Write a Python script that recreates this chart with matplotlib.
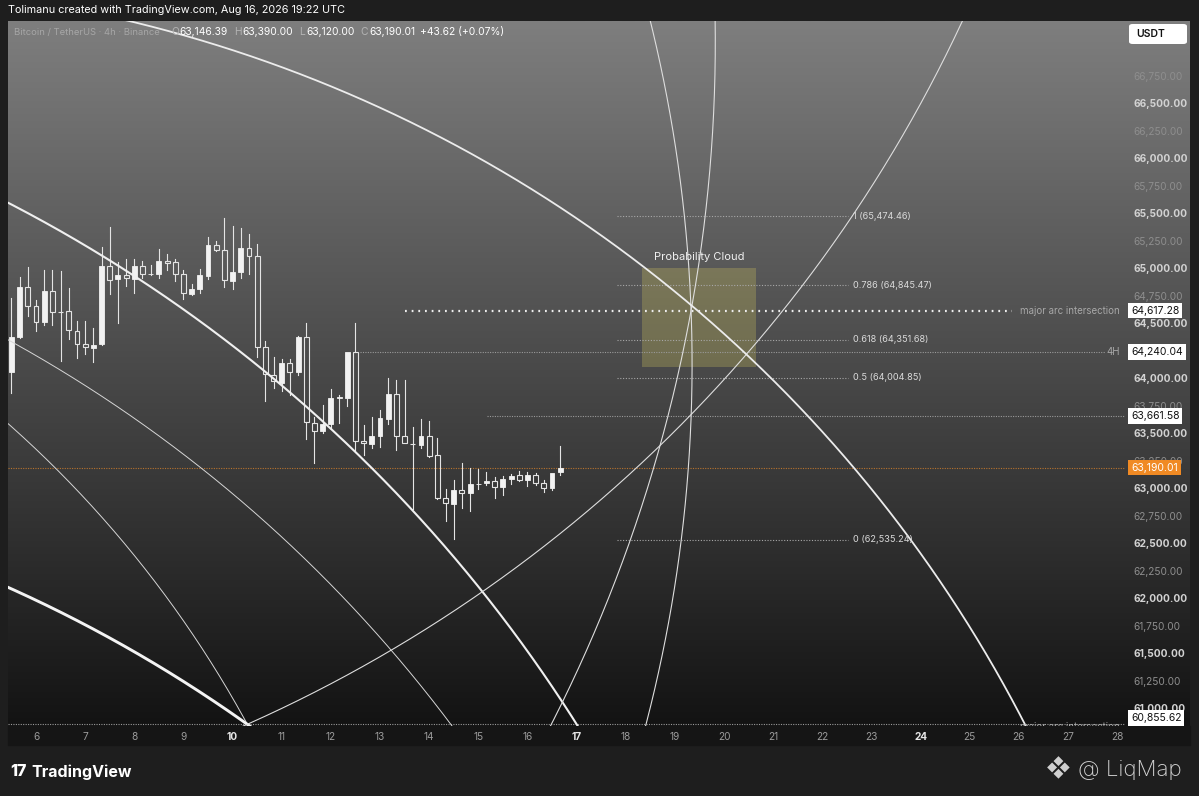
import numpy as np
import pandas as pd
import matplotlib
matplotlib.use('Agg')
import matplotlib.pyplot as plt
from matplotlib.patches import Rectangle, FancyBboxPatch
from matplotlib.colors import LinearSegmentedColormap
import matplotlib.transforms as mtransforms

plt.rcParams['font.family'] = ['Inter', 'DejaVu Sans']

W, H = 1199, 796

########
# DATA #
########

# BTCUSDT 4h candles, Aug 5 12:00 -> Aug 16 16:00
opens = [64059, 64376, 64828, 64656, 64511, 64792, 64608, 64614, 64433, 64310,
         64279, 64310, 65018, 64900, 64943, 64907, 65018, 64946, 64948, 65066,
         65063, 64948, 64771, 64810, 64930, 65214, 65169, 64889, 64967, 65187,
         65111, 64282, 64029, 63957, 64143, 64056, 64378, 63595, 63525, 63588,
         63826, 63826, 64240.04, 63434, 63405, 63473, 63633, 63860, 63473, 63407,
         63398, 63480, 63301, 62910, 62861, 62985, 62961, 63036, 63045, 63066,
         63015, 63090, 63118, 63081, 63118, 63051, 63000, 63146.39]
highs = [64729, 64921, 65012, 64710, 64982, 64982, 64973, 64822, 64523, 64526,
         64457, 65193, 65380, 65057, 65090, 65090, 65066, 65027, 65181, 65133,
         65090, 64982, 64862, 64997, 65283, 65253, 65455, 65389, 65365, 65314,
         65223, 64339, 64197, 64174, 64180, 64390, 64505, 63654, 63760, 63905,
         63850, 64240.04, 64500, 63573, 63654, 63715, 64002, 63986, 63986, 63558,
         63631, 63609, 63459, 62991, 63081, 63232, 63187, 63178, 63148, 63106,
         63110, 63127, 63157, 63148, 63136, 63080, 63140, 63390]
lows = [63869, 64370, 64566, 64430, 64484, 64484, 64158, 64357, 64188, 64222,
        64152, 64300, 64771, 64508, 64840, 64774, 64910, 64940, 64912, 64982,
        64882, 64720, 64760, 64780, 64900, 65160, 64831, 64816, 64912, 64946,
        64197, 63796, 63911, 63890, 63851, 64032, 63450, 63232, 63504, 63549,
        63595, 63754, 63338, 63308, 63368, 63377, 63588, 63347, 63410, 62810,
        63365, 63290, 62905, 62704, 62538, 62825, 62795, 62991, 63027, 62916,
        62937, 63036, 63066, 63021, 63030, 62967, 62990, 63120]
closes = [64376, 64828, 64656, 64511, 64792, 64608, 64600, 64436, 64315, 64282,
          64306, 65018, 64898, 64943, 64910, 65018, 64946, 64948, 65066, 65050,
          64948, 64780, 64810, 64937, 65214, 65169, 64891, 64967, 65187, 65111,
          64282, 64038, 63980, 64143, 64056, 64378, 63600, 63525, 63588, 63826,
          63830, 64240.04, 63428, 63410, 63473, 63640, 63860, 63473, 63413, 63400,
          63480, 63299, 62910, 62864, 62982, 62961, 63036, 63042, 63066, 63015,
          63088, 63111, 63081, 63124, 63051, 63006, 63136, 63190.01]

times = pd.date_range('2026-08-05 12:00', periods=len(opens), freq='4h')
days = ((times - pd.Timestamp('2026-08-01')) / pd.Timedelta('1D')).values + 1

# Fibonacci retracement
fib_levels = [1, 0.786, 0.618, 0.5, 0]
fib_prices = [65474.46, 64845.47, 64351.68, 64004.85, 62535.24]
fib_span = (17.83, 22.52)

# horizontal levels
major_arc_hi = 64617.28
major_arc_lo = 60855.62
level_4h = 64240.04
level_mid = 63661.58
last_price = 63190.01

# probability cloud box (days, prices)
cloud_days = (18.34, 20.65)
cloud_prices = (64108, 65007)

# arcs: three points (day, price) on each arc
arc_a = [(5.43, 65598), (12.86, 63173), (17.01, 60850)]      # thick, upper
arc_b = [(5.57, 64317), (7.71, 63727), (14.45, 60850)]        # thin
arc_c = [(5.43, 63590), (7.61, 62600), (10.30, major_arc_lo)]   # thin
arc_d = [(5.43, 62101), (7.91, 61538), (10.30, major_arc_lo)]   # thick, lower
arc_e = [(10.30, major_arc_lo), (17.07, 62737), (22.83, 65625)]  # rising
arc_f = [(19.82, 67251), (19.33, major_arc_hi), (16.48, 60850)]
arc_g = [(18.50, 67251), (19.33, major_arc_hi), (18.41, 60850)]
arc_h = [(7.97, 67242), (17.48, 65307), (26.13, 60850)]      # big arc

day_ticks = list(range(6, 29))
week_starts = [10, 17, 24]
price_ticks = np.arange(61000, 66751, 250)

########
# PLOT #
########

fig = plt.figure(figsize=(W / 100, H / 100), dpi=100)
fig.patch.set_facecolor('#1e1e1e')

def fx(px):
    return px / W

def fy(py):
    return 1 - py / H

# gradient panel behind chart and price scale
bg = fig.add_axes([fx(8), fy(726), fx(1182), (726 - 21) / H], zorder=-1)
cmap = LinearSegmentedColormap.from_list('tvbg', ['#131313', '#7e7e7e'])
bg.imshow(np.linspace(0, 1, 256)[:, None], cmap=cmap, aspect='auto',
          origin='lower', extent=(0, 1, 0, 1))
bg.set_axis_off()

# time scale strip
fig.patches.append(Rectangle((fx(8), fy(745)), fx(1182), 19 / H,
                             transform=fig.transFigure, color='#151515',
                             zorder=0.5))

ax = fig.add_axes([fx(8), fy(726), fx(1117), (726 - 21) / H], zorder=2)
ax.set_facecolor('none')
for s in ax.spines.values():
    s.set_visible(False)
ax.set_xlim(5.43, 28.16)
ax.set_ylim(60840, 67250)

# ticks
ax.set_xticks(day_ticks)
ax.set_xticklabels([str(d) for d in day_ticks])
ax.tick_params(axis='x', length=0, pad=4, labelsize=7.3, colors='#9a9a9a')
for lab, d in zip(ax.get_xticklabels(), day_ticks):
    if d in week_starts:
        lab.set_color('#e6e6e6')
        lab.set_fontweight('bold')
ax.yaxis.tick_right()
ax.set_yticks(price_ticks)
ax.set_yticklabels(['{:,.2f}'.format(p) for p in price_ticks])
ax.tick_params(axis='y', length=0, pad=6, labelsize=7.3)
for lab, p in zip(ax.get_yticklabels(), price_ticks):
    if p % 500 == 0:
        lab.set_color('#d2d2d2')
        lab.set_fontweight('bold')
    else:
        lab.set_color('#8e8e8e')

# candles
bw = 0.1
for d, o, h, l, c in zip(days, opens, highs, lows, closes):
    top, bot = max(o, c), min(o, c)
    ax.plot([d, d], [top, h], color='#e4e4e4', lw=0.8, zorder=3)
    ax.plot([d, d], [l, bot], color='#e4e4e4', lw=0.8, zorder=3)
    if c >= o:
        ax.add_patch(Rectangle((d - bw / 2, bot), bw, max(top - bot, 8),
                               fc='#f2f2f2', ec='#f2f2f2', lw=0.6, zorder=3))
    else:
        ax.add_patch(Rectangle((d - bw / 2, bot), bw, max(top - bot, 8),
                               fc='none', ec='#e4e4e4', lw=0.8, zorder=3))

# arcs, drawn as circles in screen space through three anchor points
def draw_arc(pts, lw, color):
    disp = ax.transData.transform(pts)
    (x1, y1), (x2, y2), (x3, y3) = disp
    A = 2 * np.array([[x2 - x1, y2 - y1], [x3 - x1, y3 - y1]])
    b = np.array([x2**2 - x1**2 + y2**2 - y1**2,
                  x3**2 - x1**2 + y3**2 - y1**2])
    cx, cy = np.linalg.solve(A, b)
    r = np.hypot(x1 - cx, y1 - cy)
    ang = np.unwrap(np.arctan2(disp[:, 1] - cy, disp[:, 0] - cx))
    ext = 400 / r * np.sign(ang[2] - ang[0])
    th = np.linspace(ang[0] - ext, ang[2] + ext, 800)
    xy = np.column_stack([cx + r * np.cos(th), cy + r * np.sin(th)])
    dat = ax.transData.inverted().transform(xy)
    ax.plot(dat[:, 0], dat[:, 1], color=color, lw=lw, zorder=4,
            solid_capstyle='round')

draw_arc(arc_a, 1.5, '#f0f0f0')
draw_arc(arc_b, 0.7, '#d6d6d6')
draw_arc(arc_c, 0.7, '#d6d6d6')
draw_arc(arc_d, 2.1, '#f4f4f4')
draw_arc(arc_e, 0.8, '#dedede')
draw_arc(arc_f, 0.8, '#dedede')
draw_arc(arc_g, 0.8, '#dedede')
draw_arc(arc_h, 1.3, '#ececec')

# probability cloud
ax.add_patch(Rectangle((cloud_days[0], cloud_prices[0]),
                       cloud_days[1] - cloud_days[0],
                       cloud_prices[1] - cloud_prices[0],
                       fc=(0.76, 0.72, 0.36), alpha=0.32, ec='none', zorder=2))
ax.text(np.mean(cloud_days), cloud_prices[1] + 95, 'Probability Cloud',
        color='#f0f0f0', fontsize=8, ha='center', va='center', zorder=6)

# fib levels
for lvl, p in zip(fib_levels, fib_prices):
    ax.plot(fib_span, [p, p], color='#a8a8a8', lw=0.8, ls=(0, (1, 1.5)),
            zorder=2)
    ax.text(fib_span[1] + 0.1, p, '{:g} ({:,.2f})'.format(lvl, p),
            color='#dadada', fontsize=6.6, va='center', ha='left', zorder=6)

# horizontal levels
ax.plot([13.51, 25.86], [major_arc_hi] * 2, color='#eeeeee', lw=1.6,
        ls=(0, (0.8, 2.2)), zorder=2)
ax.text(28.06, major_arc_hi, 'major arc intersection', color='#a8a8a8',
        fontsize=7, ha='right', va='center', zorder=6)
ax.plot([12.59, 27.75], [level_4h] * 2, color='#9a9a9a', lw=0.8,
        ls=(0, (1, 1.2)), zorder=2)
ax.text(28.06, level_4h, '4H', color='#a8a8a8', fontsize=7, ha='right',
        va='center', zorder=6)
ax.plot([15.18, 28.16], [level_mid] * 2, color='#9a9a9a', lw=0.8,
        ls=(0, (1, 1.2)), zorder=2)
ax.axhline(last_price, color='#b8732e', lw=0.8, ls=(0, (1, 1.2)), zorder=2)
ax.axhline(major_arc_lo, color='#9a9a9a', lw=0.8, ls=(0, (1, 1.2)), zorder=2)
low_tr = ax.transData + mtransforms.ScaledTranslation(0, -0.03, fig.dpi_scale_trans)
ax.text(28.06, major_arc_lo, 'major arc intersection', color='#a8a8a8',
        fontsize=7, ha='right', va='center', zorder=6, clip_on=True,
        transform=low_tr)

# price tags on the scale
tr = mtransforms.blended_transform_factory(ax.transAxes, ax.transData)
def tag(price, fc='white', tc='#111111', dy=0):
    t = tr + mtransforms.ScaledTranslation(0, dy / 100, fig.dpi_scale_trans)
    ax.text(1 + 6 / 1117, price, '{:,.2f}'.format(price), transform=t,
            color=tc, fontsize=7.5, ha='left', va='center', zorder=10,
            clip_on=False,
            bbox=dict(boxstyle='square,pad=0.28', fc=fc, ec='none'))

tag(major_arc_hi)
tag(level_4h)
tag(level_mid)
tag(last_price, fc='#f08a24', tc='white')
tag(major_arc_lo, dy=6)

# header texts
fig.text(fx(8), fy(10), 'Tolimanu created with TradingView.com, Aug 16, 2026 19:22 UTC',
         color='white', fontsize=7.8, va='center', ha='left')

renderer = fig.canvas.get_renderer()
def text_row(x_px, y_px, parts, size):
    # parts: (text, colour, weight, gap after in px)
    x = x_px
    for s, col, wt, gap in parts:
        t = fig.text(fx(x), fy(y_px), s, color=col, fontsize=size,
                     fontweight=wt, va='center', ha='left')
        x += t.get_window_extent(renderer).width + gap

grey = '#b4b4b4'
fig.text(fx(14), fy(32), 'Bitcoin / TetherUS · 4h · Binance', color='#a6a6a6',
         fontsize=6.8, va='center', ha='left')
text_row(171, 32, [('O', grey, 'normal', 1), ('63,146.39', 'white', 'normal', 6),
                   ('H', grey, 'normal', 1), ('63,390.00', 'white', 'normal', 6),
                   ('L', grey, 'normal', 1), ('63,120.00', 'white', 'normal', 6),
                   ('C', grey, 'normal', 1), ('63,190.01', 'white', 'normal', 5),
                   ('+43.62 (+0.07%)', 'white', 'normal', 0)], 7.4)

# currency box
fig.patches.append(FancyBboxPatch((fx(1129), fy(44)), fx(58), 20 / H,
                                  boxstyle='round,pad=0,rounding_size=0.003',
                                  transform=fig.transFigure, fc='white',
                                  ec='none', zorder=3))
fig.text(fx(1136), fy(34), 'USDT', color='#111111', fontsize=7.5,
         fontweight='semibold', va='center', ha='left', zorder=4)

# footer logos
text_row(10, 772, [('17', 'white', 'heavy', 5), ('TradingView', 'white', 'bold', 0)], 11.5)
fig.text(fx(1046), fy(770), '❖', color='#cfcfcf', fontsize=17,
         va='center', ha='left')
fig.text(fx(1078), fy(770), '@ LiqMap', color='#d4d4d4', fontsize=16,
         fontweight='light', va='center', ha='left')

fig.savefig('out.png', dpi=100, facecolor=fig.get_facecolor())
plt.close()
